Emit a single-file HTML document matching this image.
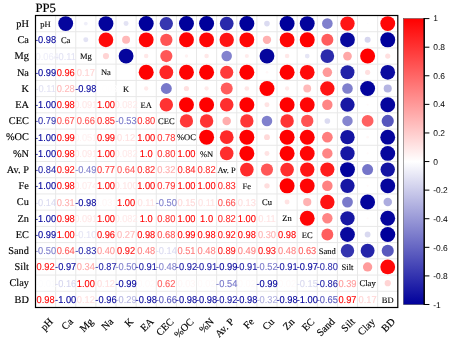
<!DOCTYPE html>
<html><head><meta charset="utf-8"><title>PP5</title>
<style>html,body{margin:0;padding:0;background:#fff}svg{display:block;text-rendering:geometricPrecision}.n{font-family:"Liberation Sans",Arial,sans-serif;font-size:10px;text-anchor:middle;stroke-width:0.12px}.d{font-family:"Liberation Serif","Times New Roman",serif;font-size:8.5px;text-anchor:middle;fill:#000;stroke:#000;stroke-width:0.1px}.r{font-family:"Liberation Serif","Times New Roman",serif;font-size:10.3px;text-anchor:end;fill:#000;stroke:#000;stroke-width:0.15px}.c{font-family:"Liberation Sans",Arial,sans-serif;font-size:8.45px;fill:#000}</style></head><body>
<svg width="453" height="342" viewBox="0 0 453 342">
<defs><linearGradient id="cb" x1="0" y1="0" x2="0" y2="1"><stop offset="0" stop-color="rgb(255,0,0)"/><stop offset="0.5" stop-color="#fff"/><stop offset="1" stop-color="rgb(0,0,155)"/></linearGradient><clipPath id="cp"><rect x="35.5" y="15.5" width="362.3" height="292.0"/></clipPath></defs>
<rect width="453" height="342" fill="#fff"/>
<path d="M55.63 15.5V307.5M35.5 31.72H397.8M75.76 15.5V307.5M35.5 47.94H397.8M95.88 15.5V307.5M35.5 64.17H397.8M116.01 15.5V307.5M35.5 80.39H397.8M136.14 15.5V307.5M35.5 96.61H397.8M156.27 15.5V307.5M35.5 112.83H397.8M176.39 15.5V307.5M35.5 129.06H397.8M196.52 15.5V307.5M35.5 145.28H397.8M216.65 15.5V307.5M35.5 161.50H397.8M236.78 15.5V307.5M35.5 177.72H397.8M256.91 15.5V307.5M35.5 193.94H397.8M277.03 15.5V307.5M35.5 210.17H397.8M297.16 15.5V307.5M35.5 226.39H397.8M317.29 15.5V307.5M35.5 242.61H397.8M337.42 15.5V307.5M35.5 258.83H397.8M357.54 15.5V307.5M35.5 275.06H397.8M377.67 15.5V307.5M35.5 291.28H397.8" stroke="#e8e8e8" stroke-width="1" fill="none"/>
<g>
<circle cx="65.69" cy="23.61" r="7.42" fill="rgb(5,5,157)"/><circle cx="85.82" cy="23.61" r="1.90" fill="rgb(239,239,249)"/><circle cx="105.95" cy="23.61" r="7.46" fill="rgb(3,3,156)"/><circle cx="126.08" cy="23.61" r="2.49" fill="rgb(227,227,244)"/><circle cx="146.20" cy="23.61" r="7.50" fill="rgb(0,0,155)"/><circle cx="166.33" cy="23.61" r="6.67" fill="rgb(54,54,176)"/><circle cx="186.46" cy="23.61" r="7.50" fill="rgb(0,0,155)"/><circle cx="206.59" cy="23.61" r="7.50" fill="rgb(0,0,155)"/><circle cx="226.71" cy="23.61" r="6.87" fill="rgb(41,41,171)"/><circle cx="246.84" cy="23.61" r="7.50" fill="rgb(0,0,155)"/><circle cx="266.97" cy="23.61" r="2.81" fill="rgb(219,219,241)"/><circle cx="287.10" cy="23.61" r="7.50" fill="rgb(0,0,155)"/><circle cx="307.23" cy="23.61" r="7.46" fill="rgb(3,3,156)"/><circle cx="327.35" cy="23.61" r="5.30" fill="rgb(128,128,205)"/><circle cx="347.48" cy="23.61" r="7.19" fill="rgb(255,20,20)"/><circle cx="367.61" cy="23.61" r="0.75" fill="rgb(252,252,254)"/><circle cx="387.74" cy="23.61" r="7.42" fill="rgb(255,5,5)"/><circle cx="85.82" cy="39.83" r="2.49" fill="rgb(227,227,244)"/><circle cx="105.95" cy="39.83" r="7.35" fill="rgb(255,10,10)"/><circle cx="126.08" cy="39.83" r="3.97" fill="rgb(255,184,184)"/><circle cx="146.20" cy="39.83" r="7.42" fill="rgb(255,5,5)"/><circle cx="166.33" cy="39.83" r="6.14" fill="rgb(255,84,84)"/><circle cx="186.46" cy="39.83" r="7.46" fill="rgb(255,3,3)"/><circle cx="206.59" cy="39.83" r="7.42" fill="rgb(255,5,5)"/><circle cx="226.71" cy="39.83" r="7.19" fill="rgb(255,20,20)"/><circle cx="246.84" cy="39.83" r="7.42" fill="rgb(255,5,5)"/><circle cx="266.97" cy="39.83" r="4.18" fill="rgb(255,176,176)"/><circle cx="287.10" cy="39.83" r="7.42" fill="rgb(255,5,5)"/><circle cx="307.23" cy="39.83" r="7.50" fill="rgb(255,0,0)"/><circle cx="327.35" cy="39.83" r="6.00" fill="rgb(255,92,92)"/><circle cx="347.48" cy="39.83" r="7.39" fill="rgb(8,8,158)"/><circle cx="367.61" cy="39.83" r="3.00" fill="rgb(214,214,239)"/><circle cx="387.74" cy="39.83" r="7.50" fill="rgb(0,0,155)"/><circle cx="105.95" cy="56.06" r="3.09" fill="rgb(255,212,212)"/><circle cx="126.08" cy="56.06" r="7.42" fill="rgb(5,5,157)"/><circle cx="146.20" cy="56.06" r="2.26" fill="rgb(255,232,232)"/><circle cx="166.33" cy="56.06" r="6.09" fill="rgb(255,87,87)"/><circle cx="186.46" cy="56.06" r="1.69" fill="rgb(255,242,242)"/><circle cx="206.59" cy="56.06" r="2.26" fill="rgb(255,232,232)"/><circle cx="226.71" cy="56.06" r="5.25" fill="rgb(130,130,206)"/><circle cx="246.84" cy="56.06" r="2.04" fill="rgb(255,236,236)"/><circle cx="266.97" cy="56.06" r="7.42" fill="rgb(5,5,157)"/><circle cx="287.10" cy="56.06" r="2.26" fill="rgb(255,232,232)"/><circle cx="307.23" cy="56.06" r="2.37" fill="rgb(230,230,245)"/><circle cx="327.35" cy="56.06" r="6.83" fill="rgb(43,43,172)"/><circle cx="347.48" cy="56.06" r="4.37" fill="rgb(255,168,168)"/><circle cx="367.61" cy="56.06" r="7.50" fill="rgb(255,0,0)"/><circle cx="387.74" cy="56.06" r="2.60" fill="rgb(255,224,224)"/><circle cx="126.08" cy="72.28" r="0.41" fill="rgb(255,254,254)"/><circle cx="146.20" cy="72.28" r="7.50" fill="rgb(255,0,0)"/><circle cx="166.33" cy="72.28" r="6.91" fill="rgb(255,38,38)"/><circle cx="186.46" cy="72.28" r="7.46" fill="rgb(255,3,3)"/><circle cx="206.59" cy="72.28" r="7.50" fill="rgb(255,0,0)"/><circle cx="226.71" cy="72.28" r="6.58" fill="rgb(255,59,59)"/><circle cx="246.84" cy="72.28" r="7.50" fill="rgb(255,0,0)"/><circle cx="266.97" cy="72.28" r="1.32" fill="rgb(255,247,247)"/><circle cx="287.10" cy="72.28" r="7.50" fill="rgb(255,0,0)"/><circle cx="307.23" cy="72.28" r="7.35" fill="rgb(255,10,10)"/><circle cx="327.35" cy="72.28" r="4.74" fill="rgb(255,153,153)"/><circle cx="347.48" cy="72.28" r="7.00" fill="rgb(33,33,168)"/><circle cx="367.61" cy="72.28" r="2.60" fill="rgb(255,224,224)"/><circle cx="387.74" cy="72.28" r="7.35" fill="rgb(10,10,159)"/><circle cx="146.20" cy="88.50" r="2.15" fill="rgb(255,234,234)"/><circle cx="166.33" cy="88.50" r="5.46" fill="rgb(120,120,202)"/><circle cx="186.46" cy="88.50" r="2.60" fill="rgb(255,224,224)"/><circle cx="206.59" cy="88.50" r="2.15" fill="rgb(255,234,234)"/><circle cx="226.71" cy="88.50" r="6.00" fill="rgb(255,92,92)"/><circle cx="246.84" cy="88.50" r="2.37" fill="rgb(255,230,230)"/><circle cx="266.97" cy="88.50" r="7.50" fill="rgb(255,0,0)"/><circle cx="287.10" cy="88.50" r="2.15" fill="rgb(255,234,234)"/><circle cx="307.23" cy="88.50" r="3.90" fill="rgb(255,186,186)"/><circle cx="327.35" cy="88.50" r="7.19" fill="rgb(255,20,20)"/><circle cx="347.48" cy="88.50" r="5.30" fill="rgb(128,128,205)"/><circle cx="367.61" cy="88.50" r="7.46" fill="rgb(3,3,156)"/><circle cx="387.74" cy="88.50" r="4.04" fill="rgb(181,181,226)"/><circle cx="166.33" cy="104.72" r="6.71" fill="rgb(255,51,51)"/><circle cx="186.46" cy="104.72" r="7.50" fill="rgb(255,0,0)"/><circle cx="206.59" cy="104.72" r="7.50" fill="rgb(255,0,0)"/><circle cx="226.71" cy="104.72" r="6.79" fill="rgb(255,46,46)"/><circle cx="246.84" cy="104.72" r="7.50" fill="rgb(255,0,0)"/><circle cx="266.97" cy="104.72" r="2.49" fill="rgb(255,227,227)"/><circle cx="287.10" cy="104.72" r="7.50" fill="rgb(255,0,0)"/><circle cx="307.23" cy="104.72" r="7.42" fill="rgb(255,5,5)"/><circle cx="327.35" cy="104.72" r="5.20" fill="rgb(255,133,133)"/><circle cx="347.48" cy="104.72" r="7.15" fill="rgb(23,23,164)"/><circle cx="367.61" cy="104.72" r="1.06" fill="rgb(255,250,250)"/><circle cx="387.74" cy="104.72" r="7.42" fill="rgb(5,5,157)"/><circle cx="186.46" cy="120.94" r="6.62" fill="rgb(255,56,56)"/><circle cx="206.59" cy="120.94" r="6.71" fill="rgb(255,51,51)"/><circle cx="226.71" cy="120.94" r="4.24" fill="rgb(255,173,173)"/><circle cx="246.84" cy="120.94" r="6.67" fill="rgb(255,54,54)"/><circle cx="266.97" cy="120.94" r="5.30" fill="rgb(128,128,205)"/><circle cx="287.10" cy="120.94" r="6.71" fill="rgb(255,51,51)"/><circle cx="307.23" cy="120.94" r="6.18" fill="rgb(255,82,82)"/><circle cx="327.35" cy="120.94" r="2.81" fill="rgb(219,219,241)"/><circle cx="347.48" cy="120.94" r="5.20" fill="rgb(133,133,207)"/><circle cx="367.61" cy="120.94" r="5.91" fill="rgb(255,97,97)"/><circle cx="387.74" cy="120.94" r="6.09" fill="rgb(87,87,189)"/><circle cx="206.59" cy="137.17" r="7.50" fill="rgb(255,0,0)"/><circle cx="226.71" cy="137.17" r="6.87" fill="rgb(255,41,41)"/><circle cx="246.84" cy="137.17" r="7.50" fill="rgb(255,0,0)"/><circle cx="266.97" cy="137.17" r="2.90" fill="rgb(255,217,217)"/><circle cx="287.10" cy="137.17" r="7.50" fill="rgb(255,0,0)"/><circle cx="307.23" cy="137.17" r="7.46" fill="rgb(255,3,3)"/><circle cx="327.35" cy="137.17" r="5.36" fill="rgb(255,125,125)"/><circle cx="347.48" cy="137.17" r="7.19" fill="rgb(20,20,163)"/><circle cx="367.61" cy="137.17" r="1.30" fill="rgb(255,247,247)"/><circle cx="387.74" cy="137.17" r="7.42" fill="rgb(5,5,157)"/><circle cx="226.71" cy="153.39" r="6.79" fill="rgb(255,46,46)"/><circle cx="246.84" cy="153.39" r="7.50" fill="rgb(255,0,0)"/><circle cx="266.97" cy="153.39" r="2.49" fill="rgb(255,227,227)"/><circle cx="287.10" cy="153.39" r="7.50" fill="rgb(255,0,0)"/><circle cx="307.23" cy="153.39" r="7.42" fill="rgb(255,5,5)"/><circle cx="327.35" cy="153.39" r="5.20" fill="rgb(255,133,133)"/><circle cx="347.48" cy="153.39" r="7.15" fill="rgb(23,23,164)"/><circle cx="367.61" cy="153.39" r="1.06" fill="rgb(255,250,250)"/><circle cx="387.74" cy="153.39" r="7.42" fill="rgb(5,5,157)"/><circle cx="246.84" cy="169.61" r="6.83" fill="rgb(255,43,43)"/><circle cx="266.97" cy="169.61" r="6.09" fill="rgb(255,87,87)"/><circle cx="287.10" cy="169.61" r="6.79" fill="rgb(255,46,46)"/><circle cx="307.23" cy="169.61" r="7.19" fill="rgb(255,20,20)"/><circle cx="327.35" cy="169.61" r="7.08" fill="rgb(255,28,28)"/><circle cx="347.48" cy="169.61" r="7.46" fill="rgb(3,3,156)"/><circle cx="367.61" cy="169.61" r="5.51" fill="rgb(117,117,201)"/><circle cx="387.74" cy="169.61" r="7.19" fill="rgb(20,20,163)"/><circle cx="266.97" cy="185.83" r="2.70" fill="rgb(255,222,222)"/><circle cx="287.10" cy="185.83" r="7.50" fill="rgb(255,0,0)"/><circle cx="307.23" cy="185.83" r="7.42" fill="rgb(255,5,5)"/><circle cx="327.35" cy="185.83" r="5.25" fill="rgb(255,130,130)"/><circle cx="347.48" cy="185.83" r="7.15" fill="rgb(23,23,164)"/><circle cx="367.61" cy="185.83" r="1.06" fill="rgb(255,250,250)"/><circle cx="387.74" cy="185.83" r="7.42" fill="rgb(5,5,157)"/><circle cx="287.10" cy="202.06" r="2.49" fill="rgb(255,227,227)"/><circle cx="307.23" cy="202.06" r="4.11" fill="rgb(255,178,178)"/><circle cx="327.35" cy="202.06" r="7.23" fill="rgb(255,18,18)"/><circle cx="347.48" cy="202.06" r="5.41" fill="rgb(122,122,203)"/><circle cx="367.61" cy="202.06" r="7.46" fill="rgb(3,3,156)"/><circle cx="387.74" cy="202.06" r="4.24" fill="rgb(173,173,223)"/><circle cx="307.23" cy="218.28" r="7.42" fill="rgb(255,5,5)"/><circle cx="327.35" cy="218.28" r="5.20" fill="rgb(255,133,133)"/><circle cx="347.48" cy="218.28" r="7.15" fill="rgb(23,23,164)"/><circle cx="367.61" cy="218.28" r="1.06" fill="rgb(255,250,250)"/><circle cx="387.74" cy="218.28" r="7.42" fill="rgb(5,5,157)"/><circle cx="327.35" cy="234.50" r="5.95" fill="rgb(255,94,94)"/><circle cx="347.48" cy="234.50" r="7.39" fill="rgb(8,8,158)"/><circle cx="367.61" cy="234.50" r="2.90" fill="rgb(217,217,240)"/><circle cx="387.74" cy="234.50" r="7.50" fill="rgb(0,0,155)"/><circle cx="347.48" cy="250.72" r="6.71" fill="rgb(51,51,175)"/><circle cx="367.61" cy="250.72" r="6.96" fill="rgb(36,36,169)"/><circle cx="387.74" cy="250.72" r="6.05" fill="rgb(89,89,190)"/><circle cx="367.61" cy="266.94" r="4.68" fill="rgb(255,156,156)"/><circle cx="387.74" cy="266.94" r="7.39" fill="rgb(255,8,8)"/><circle cx="387.74" cy="283.17" r="3.09" fill="rgb(255,212,212)"/>
</g>
<g clip-path="url(#cp)">
<text class="n" transform="translate(105.95,92.00) scale(0.93,1)" fill="rgb(255,254,254)" stroke="rgb(255,254,254)">0.003</text><text class="n" transform="translate(45.56,286.67) scale(0.93,1)" fill="rgb(252,252,254)" stroke="rgb(252,252,254)">-0.01</text><text class="n" transform="translate(146.20,286.67) scale(0.93,1)" fill="rgb(255,250,250)" stroke="rgb(255,250,250)">0.02</text><text class="n" transform="translate(206.59,286.67) scale(0.93,1)" fill="rgb(255,250,250)" stroke="rgb(255,250,250)">0.02</text><text class="n" transform="translate(246.84,286.67) scale(0.93,1)" fill="rgb(255,250,250)" stroke="rgb(255,250,250)">0.02</text><text class="n" transform="translate(287.10,286.67) scale(0.93,1)" fill="rgb(255,250,250)" stroke="rgb(255,250,250)">0.02</text>
<text class="n" transform="translate(186.46,286.67) scale(0.93,1)" fill="rgb(255,247,247)" stroke="rgb(255,247,247)">0.03</text><text class="n" transform="translate(105.95,205.56) scale(0.93,1)" fill="rgb(255,247,247)" stroke="rgb(255,247,247)">0.031</text><text class="n" transform="translate(85.82,140.67) scale(0.93,1)" fill="rgb(255,242,242)" stroke="rgb(255,242,242)">0.051</text><text class="n" transform="translate(45.56,59.56) scale(0.93,1)" fill="rgb(239,239,249)" stroke="rgb(239,239,249)">-0.064</text><text class="n" transform="translate(85.82,189.33) scale(0.93,1)" fill="rgb(255,236,236)" stroke="rgb(255,236,236)">0.074</text><text class="n" transform="translate(126.08,108.22) scale(0.93,1)" fill="rgb(255,234,234)" stroke="rgb(255,234,234)">0.082</text>
<text class="n" transform="translate(126.08,156.89) scale(0.93,1)" fill="rgb(255,234,234)" stroke="rgb(255,234,234)">0.082</text><text class="n" transform="translate(126.08,221.78) scale(0.93,1)" fill="rgb(255,234,234)" stroke="rgb(255,234,234)">0.082</text><text class="n" transform="translate(85.82,108.22) scale(0.93,1)" fill="rgb(255,232,232)" stroke="rgb(255,232,232)">0.091</text><text class="n" transform="translate(85.82,156.89) scale(0.93,1)" fill="rgb(255,232,232)" stroke="rgb(255,232,232)">0.091</text><text class="n" transform="translate(85.82,221.78) scale(0.93,1)" fill="rgb(255,232,232)" stroke="rgb(255,232,232)">0.091</text><text class="n" transform="translate(126.08,189.33) scale(0.93,1)" fill="rgb(255,230,230)" stroke="rgb(255,230,230)">0.100</text>
<text class="n" transform="translate(85.82,238.00) scale(0.93,1)" fill="rgb(230,230,245)" stroke="rgb(230,230,245)">-0.10</text><text class="n" transform="translate(65.69,59.56) scale(0.93,1)" fill="rgb(227,227,244)" stroke="rgb(227,227,244)">-0.11</text><text class="n" transform="translate(45.56,92.00) scale(0.93,1)" fill="rgb(227,227,244)" stroke="rgb(227,227,244)">-0.11</text><text class="n" transform="translate(146.20,205.56) scale(0.93,1)" fill="rgb(255,227,227)" stroke="rgb(255,227,227)">0.11</text><text class="n" transform="translate(206.59,205.56) scale(0.93,1)" fill="rgb(255,227,227)" stroke="rgb(255,227,227)">0.11</text><text class="n" transform="translate(266.97,221.78) scale(0.93,1)" fill="rgb(255,227,227)" stroke="rgb(255,227,227)">0.11</text>
<text class="n" transform="translate(126.08,140.67) scale(0.93,1)" fill="rgb(255,224,224)" stroke="rgb(255,224,224)">0.12</text><text class="n" transform="translate(105.95,286.67) scale(0.93,1)" fill="rgb(255,224,224)" stroke="rgb(255,224,224)">0.12</text><text class="n" transform="translate(85.82,302.89) scale(0.93,1)" fill="rgb(255,224,224)" stroke="rgb(255,224,224)">0.12</text><text class="n" transform="translate(246.84,205.56) scale(0.93,1)" fill="rgb(255,222,222)" stroke="rgb(255,222,222)">0.13</text><text class="n" transform="translate(45.56,205.56) scale(0.93,1)" fill="rgb(219,219,241)" stroke="rgb(219,219,241)">-0.14</text><text class="n" transform="translate(166.33,254.22) scale(0.93,1)" fill="rgb(219,219,241)" stroke="rgb(219,219,241)">-0.14</text>
<text class="n" transform="translate(186.46,205.56) scale(0.93,1)" fill="rgb(255,217,217)" stroke="rgb(255,217,217)">0.15</text><text class="n" transform="translate(307.23,286.67) scale(0.93,1)" fill="rgb(217,217,240)" stroke="rgb(217,217,240)">-0.15</text><text class="n" transform="translate(65.69,286.67) scale(0.93,1)" fill="rgb(214,214,239)" stroke="rgb(214,214,239)">-0.16</text><text class="n" transform="translate(85.82,75.78) scale(0.93,1)" fill="rgb(255,212,212)" stroke="rgb(255,212,212)">0.17</text><text class="n" transform="translate(367.61,302.89) scale(0.93,1)" fill="rgb(255,212,212)" stroke="rgb(255,212,212)">0.17</text><text class="n" transform="translate(126.08,238.00) scale(0.93,1)" fill="rgb(255,186,186)" stroke="rgb(255,186,186)">0.27</text>
<text class="n" transform="translate(65.69,92.00) scale(0.93,1)" fill="rgb(255,184,184)" stroke="rgb(255,184,184)">0.28</text><text class="n" transform="translate(126.08,302.89) scale(0.93,1)" fill="rgb(181,181,226)" stroke="rgb(181,181,226)">-0.29</text><text class="n" transform="translate(266.97,238.00) scale(0.93,1)" fill="rgb(255,178,178)" stroke="rgb(255,178,178)">0.30</text><text class="n" transform="translate(65.69,205.56) scale(0.93,1)" fill="rgb(255,176,176)" stroke="rgb(255,176,176)">0.31</text><text class="n" transform="translate(166.33,173.11) scale(0.93,1)" fill="rgb(255,173,173)" stroke="rgb(255,173,173)">0.32</text><text class="n" transform="translate(266.97,302.89) scale(0.93,1)" fill="rgb(173,173,223)" stroke="rgb(173,173,223)">-0.32</text>
<text class="n" transform="translate(85.82,270.44) scale(0.93,1)" fill="rgb(255,168,168)" stroke="rgb(255,168,168)">0.34</text><text class="n" transform="translate(347.48,286.67) scale(0.93,1)" fill="rgb(255,156,156)" stroke="rgb(255,156,156)">0.39</text><text class="n" transform="translate(105.95,254.22) scale(0.93,1)" fill="rgb(255,153,153)" stroke="rgb(255,153,153)">0.40</text><text class="n" transform="translate(146.20,254.22) scale(0.93,1)" fill="rgb(255,133,133)" stroke="rgb(255,133,133)">0.48</text><text class="n" transform="translate(206.59,254.22) scale(0.93,1)" fill="rgb(255,133,133)" stroke="rgb(255,133,133)">0.48</text><text class="n" transform="translate(287.10,254.22) scale(0.93,1)" fill="rgb(255,133,133)" stroke="rgb(255,133,133)">0.48</text>
<text class="n" transform="translate(166.33,270.44) scale(0.93,1)" fill="rgb(133,133,207)" stroke="rgb(133,133,207)">-0.48</text><text class="n" transform="translate(85.82,173.11) scale(0.93,1)" fill="rgb(130,130,206)" stroke="rgb(130,130,206)">-0.49</text><text class="n" transform="translate(246.84,254.22) scale(0.93,1)" fill="rgb(255,130,130)" stroke="rgb(255,130,130)">0.49</text><text class="n" transform="translate(166.33,205.56) scale(0.93,1)" fill="rgb(128,128,205)" stroke="rgb(128,128,205)">-0.50</text><text class="n" transform="translate(45.56,254.22) scale(0.93,1)" fill="rgb(128,128,205)" stroke="rgb(128,128,205)">-0.50</text><text class="n" transform="translate(126.08,270.44) scale(0.93,1)" fill="rgb(128,128,205)" stroke="rgb(128,128,205)">-0.50</text>
<text class="n" transform="translate(186.46,254.22) scale(0.93,1)" fill="rgb(255,125,125)" stroke="rgb(255,125,125)">0.51</text><text class="n" transform="translate(266.97,270.44) scale(0.93,1)" fill="rgb(122,122,203)" stroke="rgb(122,122,203)">-0.52</text><text class="n" transform="translate(126.08,124.44) scale(0.93,1)" fill="rgb(120,120,202)" stroke="rgb(120,120,202)">-0.53</text><text class="n" transform="translate(226.71,286.67) scale(0.93,1)" fill="rgb(117,117,201)" stroke="rgb(117,117,201)">-0.54</text><text class="n" transform="translate(166.33,286.67) scale(0.93,1)" fill="rgb(255,97,97)" stroke="rgb(255,97,97)">0.62</text><text class="n" transform="translate(307.23,254.22) scale(0.93,1)" fill="rgb(255,94,94)" stroke="rgb(255,94,94)">0.63</text>
<text class="n" transform="translate(126.08,173.11) scale(0.93,1)" fill="rgb(255,92,92)" stroke="rgb(255,92,92)">0.64</text><text class="n" transform="translate(65.69,254.22) scale(0.93,1)" fill="rgb(255,92,92)" stroke="rgb(255,92,92)">0.64</text><text class="n" transform="translate(327.35,302.89) scale(0.93,1)" fill="rgb(89,89,190)" stroke="rgb(89,89,190)">-0.65</text><text class="n" transform="translate(85.82,124.44) scale(0.93,1)" fill="rgb(255,87,87)" stroke="rgb(255,87,87)">0.66</text><text class="n" transform="translate(226.71,205.56) scale(0.93,1)" fill="rgb(255,87,87)" stroke="rgb(255,87,87)">0.66</text><text class="n" transform="translate(166.33,302.89) scale(0.93,1)" fill="rgb(87,87,189)" stroke="rgb(87,87,189)">-0.66</text>
<text class="n" transform="translate(65.69,124.44) scale(0.93,1)" fill="rgb(255,84,84)" stroke="rgb(255,84,84)">0.67</text><text class="n" transform="translate(166.33,238.00) scale(0.93,1)" fill="rgb(255,82,82)" stroke="rgb(255,82,82)">0.68</text><text class="n" transform="translate(105.95,173.11) scale(0.93,1)" fill="rgb(255,59,59)" stroke="rgb(255,59,59)">0.77</text><text class="n" transform="translate(166.33,140.67) scale(0.93,1)" fill="rgb(255,56,56)" stroke="rgb(255,56,56)">0.78</text><text class="n" transform="translate(45.56,124.44) scale(0.93,1)" fill="rgb(54,54,176)" stroke="rgb(54,54,176)">-0.79</text><text class="n" transform="translate(166.33,189.33) scale(0.93,1)" fill="rgb(255,54,54)" stroke="rgb(255,54,54)">0.79</text>
<text class="n" transform="translate(146.20,124.44) scale(0.93,1)" fill="rgb(255,51,51)" stroke="rgb(255,51,51)">0.80</text><text class="n" transform="translate(166.33,156.89) scale(0.93,1)" fill="rgb(255,51,51)" stroke="rgb(255,51,51)">0.80</text><text class="n" transform="translate(166.33,221.78) scale(0.93,1)" fill="rgb(255,51,51)" stroke="rgb(255,51,51)">0.80</text><text class="n" transform="translate(327.35,270.44) scale(0.93,1)" fill="rgb(51,51,175)" stroke="rgb(51,51,175)">-0.80</text><text class="n" transform="translate(146.20,173.11) scale(0.93,1)" fill="rgb(255,46,46)" stroke="rgb(255,46,46)">0.82</text><text class="n" transform="translate(206.59,173.11) scale(0.93,1)" fill="rgb(255,46,46)" stroke="rgb(255,46,46)">0.82</text>
<text class="n" transform="translate(226.71,221.78) scale(0.93,1)" fill="rgb(255,46,46)" stroke="rgb(255,46,46)">0.82</text><text class="n" transform="translate(226.71,189.33) scale(0.93,1)" fill="rgb(255,43,43)" stroke="rgb(255,43,43)">0.83</text><text class="n" transform="translate(85.82,254.22) scale(0.93,1)" fill="rgb(43,43,172)" stroke="rgb(43,43,172)">-0.83</text><text class="n" transform="translate(45.56,173.11) scale(0.93,1)" fill="rgb(41,41,171)" stroke="rgb(41,41,171)">-0.84</text><text class="n" transform="translate(186.46,173.11) scale(0.93,1)" fill="rgb(255,41,41)" stroke="rgb(255,41,41)">0.84</text><text class="n" transform="translate(105.95,124.44) scale(0.93,1)" fill="rgb(255,38,38)" stroke="rgb(255,38,38)">0.85</text>
<text class="n" transform="translate(327.35,286.67) scale(0.93,1)" fill="rgb(36,36,169)" stroke="rgb(36,36,169)">-0.86</text><text class="n" transform="translate(105.95,270.44) scale(0.93,1)" fill="rgb(33,33,168)" stroke="rgb(33,33,168)">-0.87</text><text class="n" transform="translate(226.71,254.22) scale(0.93,1)" fill="rgb(255,28,28)" stroke="rgb(255,28,28)">0.89</text><text class="n" transform="translate(146.20,270.44) scale(0.93,1)" fill="rgb(23,23,164)" stroke="rgb(23,23,164)">-0.91</text><text class="n" transform="translate(206.59,270.44) scale(0.93,1)" fill="rgb(23,23,164)" stroke="rgb(23,23,164)">-0.91</text><text class="n" transform="translate(246.84,270.44) scale(0.93,1)" fill="rgb(23,23,164)" stroke="rgb(23,23,164)">-0.91</text>
<text class="n" transform="translate(287.10,270.44) scale(0.93,1)" fill="rgb(23,23,164)" stroke="rgb(23,23,164)">-0.91</text><text class="n" transform="translate(65.69,173.11) scale(0.93,1)" fill="rgb(255,20,20)" stroke="rgb(255,20,20)">0.92</text><text class="n" transform="translate(226.71,238.00) scale(0.93,1)" fill="rgb(255,20,20)" stroke="rgb(255,20,20)">0.92</text><text class="n" transform="translate(126.08,254.22) scale(0.93,1)" fill="rgb(255,20,20)" stroke="rgb(255,20,20)">0.92</text><text class="n" transform="translate(45.56,270.44) scale(0.93,1)" fill="rgb(255,20,20)" stroke="rgb(255,20,20)">0.92</text><text class="n" transform="translate(186.46,270.44) scale(0.93,1)" fill="rgb(20,20,163)" stroke="rgb(20,20,163)">-0.92</text>
<text class="n" transform="translate(226.71,302.89) scale(0.93,1)" fill="rgb(20,20,163)" stroke="rgb(20,20,163)">-0.92</text><text class="n" transform="translate(266.97,254.22) scale(0.93,1)" fill="rgb(255,18,18)" stroke="rgb(255,18,18)">0.93</text><text class="n" transform="translate(65.69,75.78) scale(0.93,1)" fill="rgb(255,10,10)" stroke="rgb(255,10,10)">0.96</text><text class="n" transform="translate(105.95,238.00) scale(0.93,1)" fill="rgb(255,10,10)" stroke="rgb(255,10,10)">0.96</text><text class="n" transform="translate(105.95,302.89) scale(0.93,1)" fill="rgb(10,10,159)" stroke="rgb(10,10,159)">-0.96</text><text class="n" transform="translate(65.69,270.44) scale(0.93,1)" fill="rgb(8,8,158)" stroke="rgb(8,8,158)">-0.97</text>
<text class="n" transform="translate(307.23,270.44) scale(0.93,1)" fill="rgb(8,8,158)" stroke="rgb(8,8,158)">-0.97</text><text class="n" transform="translate(347.48,302.89) scale(0.93,1)" fill="rgb(255,8,8)" stroke="rgb(255,8,8)">0.97</text><text class="n" transform="translate(45.56,43.33) scale(0.93,1)" fill="rgb(5,5,157)" stroke="rgb(5,5,157)">-0.98</text><text class="n" transform="translate(85.82,92.00) scale(0.93,1)" fill="rgb(5,5,157)" stroke="rgb(5,5,157)">-0.98</text><text class="n" transform="translate(65.69,108.22) scale(0.93,1)" fill="rgb(255,5,5)" stroke="rgb(255,5,5)">0.98</text><text class="n" transform="translate(65.69,156.89) scale(0.93,1)" fill="rgb(255,5,5)" stroke="rgb(255,5,5)">0.98</text>
<text class="n" transform="translate(65.69,189.33) scale(0.93,1)" fill="rgb(255,5,5)" stroke="rgb(255,5,5)">0.98</text><text class="n" transform="translate(85.82,205.56) scale(0.93,1)" fill="rgb(5,5,157)" stroke="rgb(5,5,157)">-0.98</text><text class="n" transform="translate(65.69,221.78) scale(0.93,1)" fill="rgb(255,5,5)" stroke="rgb(255,5,5)">0.98</text><text class="n" transform="translate(146.20,238.00) scale(0.93,1)" fill="rgb(255,5,5)" stroke="rgb(255,5,5)">0.98</text><text class="n" transform="translate(206.59,238.00) scale(0.93,1)" fill="rgb(255,5,5)" stroke="rgb(255,5,5)">0.98</text><text class="n" transform="translate(246.84,238.00) scale(0.93,1)" fill="rgb(255,5,5)" stroke="rgb(255,5,5)">0.98</text>
<text class="n" transform="translate(287.10,238.00) scale(0.93,1)" fill="rgb(255,5,5)" stroke="rgb(255,5,5)">0.98</text><text class="n" transform="translate(45.56,302.89) scale(0.93,1)" fill="rgb(255,5,5)" stroke="rgb(255,5,5)">0.98</text><text class="n" transform="translate(146.20,302.89) scale(0.93,1)" fill="rgb(5,5,157)" stroke="rgb(5,5,157)">-0.98</text><text class="n" transform="translate(186.46,302.89) scale(0.93,1)" fill="rgb(5,5,157)" stroke="rgb(5,5,157)">-0.98</text><text class="n" transform="translate(206.59,302.89) scale(0.93,1)" fill="rgb(5,5,157)" stroke="rgb(5,5,157)">-0.98</text><text class="n" transform="translate(246.84,302.89) scale(0.93,1)" fill="rgb(5,5,157)" stroke="rgb(5,5,157)">-0.98</text>
<text class="n" transform="translate(287.10,302.89) scale(0.93,1)" fill="rgb(5,5,157)" stroke="rgb(5,5,157)">-0.98</text><text class="n" transform="translate(45.56,75.78) scale(0.93,1)" fill="rgb(3,3,156)" stroke="rgb(3,3,156)">-0.99</text><text class="n" transform="translate(65.69,140.67) scale(0.93,1)" fill="rgb(255,3,3)" stroke="rgb(255,3,3)">0.99</text><text class="n" transform="translate(105.95,140.67) scale(0.93,1)" fill="rgb(255,3,3)" stroke="rgb(255,3,3)">0.99</text><text class="n" transform="translate(45.56,238.00) scale(0.93,1)" fill="rgb(3,3,156)" stroke="rgb(3,3,156)">-0.99</text><text class="n" transform="translate(186.46,238.00) scale(0.93,1)" fill="rgb(255,3,3)" stroke="rgb(255,3,3)">0.99</text>
<text class="n" transform="translate(226.71,270.44) scale(0.93,1)" fill="rgb(3,3,156)" stroke="rgb(3,3,156)">-0.99</text><text class="n" transform="translate(126.08,286.67) scale(0.93,1)" fill="rgb(3,3,156)" stroke="rgb(3,3,156)">-0.99</text><text class="n" transform="translate(266.97,286.67) scale(0.93,1)" fill="rgb(3,3,156)" stroke="rgb(3,3,156)">-0.99</text><text class="n" transform="translate(45.56,108.22) scale(0.93,1)" fill="rgb(0,0,155)" stroke="rgb(0,0,155)">-1.00</text><text class="n" transform="translate(105.95,108.22) scale(0.93,1)" fill="rgb(255,0,0)" stroke="rgb(255,0,0)">1.00</text><text class="n" transform="translate(45.56,140.67) scale(0.93,1)" fill="rgb(0,0,155)" stroke="rgb(0,0,155)">-1.00</text>
<text class="n" transform="translate(146.20,140.67) scale(0.93,1)" fill="rgb(255,0,0)" stroke="rgb(255,0,0)">1.00</text><text class="n" transform="translate(45.56,156.89) scale(0.93,1)" fill="rgb(0,0,155)" stroke="rgb(0,0,155)">-1.00</text><text class="n" transform="translate(105.95,156.89) scale(0.93,1)" fill="rgb(255,0,0)" stroke="rgb(255,0,0)">1.00</text><text class="n" transform="translate(146.20,156.89) scale(0.93,1)" fill="rgb(255,0,0)" stroke="rgb(255,0,0)">1.0</text><text class="n" transform="translate(186.46,156.89) scale(0.93,1)" fill="rgb(255,0,0)" stroke="rgb(255,0,0)">1.00</text><text class="n" transform="translate(45.56,189.33) scale(0.93,1)" fill="rgb(0,0,155)" stroke="rgb(0,0,155)">-1.00</text>
<text class="n" transform="translate(105.95,189.33) scale(0.93,1)" fill="rgb(255,0,0)" stroke="rgb(255,0,0)">1.00</text><text class="n" transform="translate(146.20,189.33) scale(0.93,1)" fill="rgb(255,0,0)" stroke="rgb(255,0,0)">1.00</text><text class="n" transform="translate(186.46,189.33) scale(0.93,1)" fill="rgb(255,0,0)" stroke="rgb(255,0,0)">1.00</text><text class="n" transform="translate(206.59,189.33) scale(0.93,1)" fill="rgb(255,0,0)" stroke="rgb(255,0,0)">1.00</text><text class="n" transform="translate(126.08,205.56) scale(0.93,1)" fill="rgb(255,0,0)" stroke="rgb(255,0,0)">1.00</text><text class="n" transform="translate(45.56,221.78) scale(0.93,1)" fill="rgb(0,0,155)" stroke="rgb(0,0,155)">-1.00</text>
<text class="n" transform="translate(105.95,221.78) scale(0.93,1)" fill="rgb(255,0,0)" stroke="rgb(255,0,0)">1.00</text><text class="n" transform="translate(146.20,221.78) scale(0.93,1)" fill="rgb(255,0,0)" stroke="rgb(255,0,0)">1.0</text><text class="n" transform="translate(186.46,221.78) scale(0.93,1)" fill="rgb(255,0,0)" stroke="rgb(255,0,0)">1.00</text><text class="n" transform="translate(206.59,221.78) scale(0.93,1)" fill="rgb(255,0,0)" stroke="rgb(255,0,0)">1.0</text><text class="n" transform="translate(246.84,221.78) scale(0.93,1)" fill="rgb(255,0,0)" stroke="rgb(255,0,0)">1.00</text><text class="n" transform="translate(65.69,238.00) scale(0.93,1)" fill="rgb(255,0,0)" stroke="rgb(255,0,0)">1.00</text>
<text class="n" transform="translate(85.82,286.67) scale(0.93,1)" fill="rgb(255,0,0)" stroke="rgb(255,0,0)">1.00</text><text class="n" transform="translate(65.69,302.89) scale(0.93,1)" fill="rgb(0,0,155)" stroke="rgb(0,0,155)">-1.00</text><text class="n" transform="translate(307.23,302.89) scale(0.93,1)" fill="rgb(0,0,155)" stroke="rgb(0,0,155)">-1.00</text>
</g>
<text class="d" x="45.56" y="26.81">pH</text><text class="d" x="65.69" y="43.03">Ca</text><text class="d" x="85.82" y="59.26">Mg</text><text class="d" x="105.95" y="75.48">Na</text><text class="d" x="126.08" y="91.70">K</text><text class="d" x="146.20" y="107.92">EA</text><text class="d" x="166.33" y="124.14">CEC</text><text class="d" x="186.46" y="140.37">%OC</text><text class="d" x="206.59" y="156.59">%N</text><text class="d" x="226.71" y="172.81">Av. P</text><text class="d" x="246.84" y="189.03">Fe</text><text class="d" x="266.97" y="205.26">Cu</text><text class="d" x="287.10" y="221.48">Zn</text><text class="d" x="307.23" y="237.70">EC</text><text class="d" x="327.35" y="253.92">Sand</text><text class="d" x="347.48" y="270.14">Silt</text><text class="d" x="367.61" y="286.37">Clay</text><text class="d" x="387.74" y="302.59">BD</text>
<text class="r" x="28.9" y="26.91">pH</text><text class="r" x="28.9" y="43.13">Ca</text><text class="r" x="28.9" y="59.36">Mg</text><text class="r" x="28.9" y="75.58">Na</text><text class="r" x="28.9" y="91.80">K</text><text class="r" x="28.9" y="108.02">EA</text><text class="r" x="28.9" y="124.24">CEC</text><text class="r" x="28.9" y="140.47">%OC</text><text class="r" x="28.9" y="156.69">%N</text><text class="r" x="28.9" y="172.91">Av. P</text><text class="r" x="28.9" y="189.13">Fe</text><text class="r" x="28.9" y="205.36">Cu</text><text class="r" x="28.9" y="221.58">Zn</text><text class="r" x="28.9" y="237.80">EC</text><text class="r" x="28.9" y="254.02">Sand</text><text class="r" x="28.9" y="270.24">Silt</text><text class="r" x="28.9" y="286.47">Clay</text><text class="r" x="28.9" y="302.69">BD</text>
<text class="r" transform="translate(53.56,322.3) rotate(-45)">pH</text><text class="r" transform="translate(73.69,322.3) rotate(-45)">Ca</text><text class="r" transform="translate(93.82,322.3) rotate(-45)">Mg</text><text class="r" transform="translate(113.95,322.3) rotate(-45)">Na</text><text class="r" transform="translate(134.08,322.3) rotate(-45)">K</text><text class="r" transform="translate(154.20,322.3) rotate(-45)">EA</text><text class="r" transform="translate(174.33,322.3) rotate(-45)">CEC</text><text class="r" transform="translate(194.46,322.3) rotate(-45)">%OC</text><text class="r" transform="translate(214.59,322.3) rotate(-45)">%N</text><text class="r" transform="translate(234.71,322.3) rotate(-45)">Av. P</text><text class="r" transform="translate(254.84,322.3) rotate(-45)">Fe</text><text class="r" transform="translate(274.97,322.3) rotate(-45)">Cu</text><text class="r" transform="translate(295.10,322.3) rotate(-45)">Zn</text><text class="r" transform="translate(315.23,322.3) rotate(-45)">EC</text><text class="r" transform="translate(335.35,322.3) rotate(-45)">Sand</text><text class="r" transform="translate(355.48,322.3) rotate(-45)">Silt</text><text class="r" transform="translate(375.61,322.3) rotate(-45)">Clay</text><text class="r" transform="translate(395.74,322.3) rotate(-45)">BD</text>
<rect x="35.5" y="15.5" width="362.3" height="292.0" fill="none" stroke="#000" stroke-width="1.2"/>
<text x="35.5" y="12" style="font-family:'Liberation Serif','Times New Roman',serif;font-size:12.7px" fill="#000" stroke="#000" stroke-width="0.2">PP5</text>
<rect x="403.5" y="18.6" width="20.69999999999999" height="285.9" fill="url(#cb)" stroke="#000" stroke-opacity="0.7" stroke-width="0.5"/>
<path d="M424.2 18.1V305.0" stroke="#000" stroke-width="1.4" fill="none"/>
<text class="c" x="433.2" y="21.30">1</text><text class="c" x="433.2" y="49.96">0.8</text><text class="c" x="433.2" y="78.62">0.6</text><text class="c" x="433.2" y="107.28">0.4</text><text class="c" x="433.2" y="135.94">0.2</text><text class="c" x="433.2" y="164.60">0</text><text class="c" x="433.2" y="193.26">-0.2</text><text class="c" x="433.2" y="221.92">-0.4</text><text class="c" x="433.2" y="250.58">-0.6</text><text class="c" x="433.2" y="279.24">-0.8</text><text class="c" x="433.2" y="307.90">-1</text>
<path d="M424.2 18.60H429.4M424.2 47.19H429.4M424.2 75.78H429.4M424.2 104.37H429.4M424.2 132.96H429.4M424.2 161.55H429.4M424.2 190.14H429.4M424.2 218.73H429.4M424.2 247.32H429.4M424.2 275.91H429.4M424.2 304.50H429.4" stroke="#000" stroke-width="1" fill="none"/>
</svg>
</body></html>
